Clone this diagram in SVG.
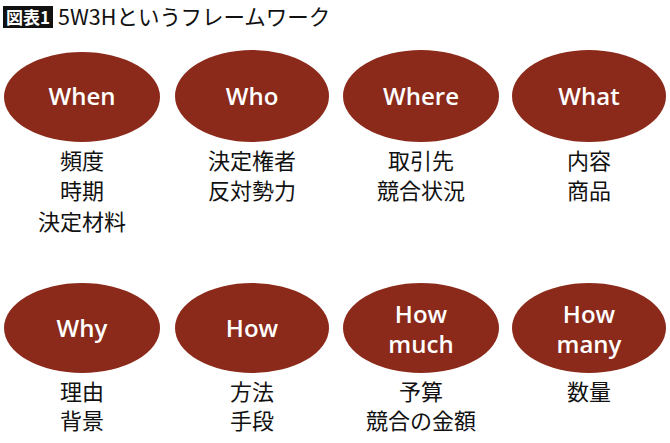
<svg xmlns="http://www.w3.org/2000/svg" width="670" height="443" viewBox="0 0 670 443">
<style>
.ell{fill:#8B2A1B}
.en{font-family:"Open Sans",Lato,sans-serif;font-weight:600;font-size:24px;fill:#fff;text-anchor:middle}
.jp{font-family:"Noto Sans CJK JP",sans-serif;font-size:22px;fill:#111;text-anchor:middle}
</style>
<rect width="670" height="443" fill="#fff"/>
<g id="title">
<rect x="3" y="6" width="50" height="22" fill="#111"/>
<text x="28" y="23.5" font-family="'Noto Sans CJK JP',sans-serif" font-weight="700" font-size="17" fill="#fff" text-anchor="middle">図表1</text>
<text x="58" y="25" font-family="'Noto Sans CJK JP',sans-serif" font-weight="400" font-size="21.5" fill="#111">5W3Hというフレームワーク</text>
</g>
<g id="connectors"></g>
<g id="when">
<ellipse class="ell" cx="82" cy="97" rx="78" ry="45"/>
<text class="en" x="82" y="105">When</text>
<text class="jp" x="82" y="169">頻度</text>
<text class="jp" x="82" y="199">時期</text>
<text class="jp" x="82" y="230">決定材料</text>
</g>
<g id="who">
<ellipse class="ell" cx="252" cy="96" rx="77" ry="46"/>
<text class="en" x="252" y="105">Who</text>
<text class="jp" x="252" y="169">決定権者</text>
<text class="jp" x="252" y="199">反対勢力</text>
</g>
<g id="where">
<ellipse class="ell" cx="421" cy="96" rx="78" ry="46"/>
<text class="en" x="421" y="105">Where</text>
<text class="jp" x="421" y="169">取引先</text>
<text class="jp" x="421" y="199">競合状況</text>
</g>
<g id="what">
<ellipse class="ell" cx="589" cy="96" rx="77" ry="46"/>
<text class="en" x="589" y="105">What</text>
<text class="jp" x="589" y="169">内容</text>
<text class="jp" x="589" y="199">商品</text>
</g>
<g id="why">
<ellipse class="ell" cx="82" cy="328" rx="78" ry="45"/>
<text class="en" x="82" y="337">Why</text>
<text class="jp" x="82" y="400">理由</text>
<text class="jp" x="82" y="429">背景</text>
</g>
<g id="how">
<ellipse class="ell" cx="252" cy="328" rx="77" ry="45"/>
<text class="en" x="252" y="337">How</text>
<text class="jp" x="252" y="400">方法</text>
<text class="jp" x="252" y="429">手段</text>
</g>
<g id="howmuch">
<ellipse class="ell" cx="421" cy="328" rx="78" ry="45"/>
<text class="en" x="421" y="323">How</text>
<text class="en" x="421" y="353">much</text>
<text class="jp" x="421" y="400">予算</text>
<text class="jp" x="421" y="429">競合の金額</text>
</g>
<g id="howmany">
<ellipse class="ell" cx="589" cy="328" rx="77" ry="45"/>
<text class="en" x="589" y="323">How</text>
<text class="en" x="589" y="353">many</text>
<text class="jp" x="589" y="400">数量</text>
</g>
</svg>
